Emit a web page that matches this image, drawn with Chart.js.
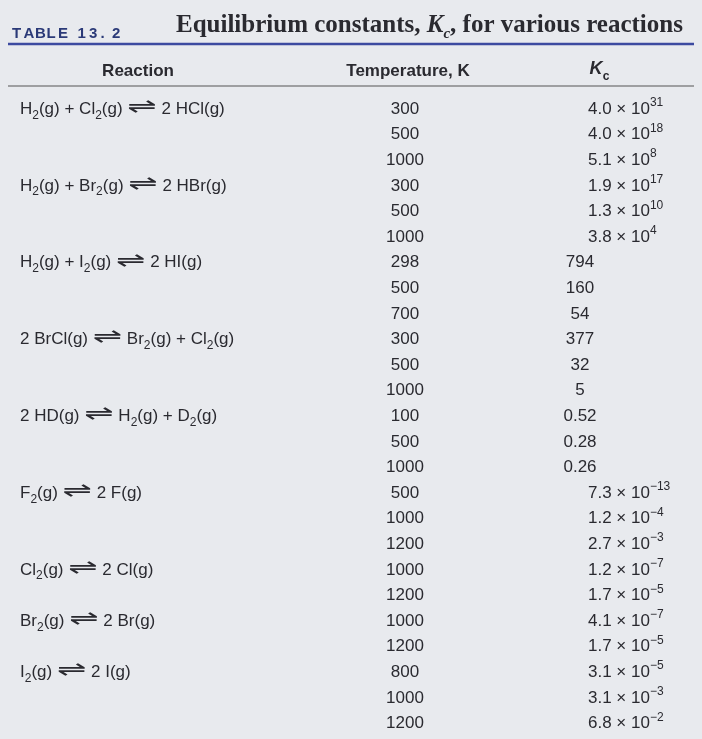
<!DOCTYPE html>
<html lang="en">
<head>
  <meta charset="UTF-8" />
  <title>Table 13.2 — Equilibrium constants</title>
  <script src="https://cdn.jsdelivr.net/npm/chart.js@4.4.1/dist/chart.umd.min.js"></script>
  <style>
    body { margin: 0; background: #e8eaee; }
    canvas { display: block; }
  </style>
</head>
<body>
  <canvas id="tbl" width="702" height="739"></canvas>

  <script>
    // one entry per row; reaction text only on the first row of each group
    const reactions = [
      'H_2(g) + Cl_2(g) ⇌ 2 HCl(g)', '', '',
      'H_2(g) + Br_2(g) ⇌ 2 HBr(g)', '', '',
      'H_2(g) + I_2(g) ⇌ 2 HI(g)', '', '',
      '2 BrCl(g) ⇌ Br_2(g) + Cl_2(g)', '', '',
      '2 HD(g) ⇌ H_2(g) + D_2(g)', '', '',
      'F_2(g) ⇌ 2 F(g)', '', '',
      'Cl_2(g) ⇌ 2 Cl(g)', '',
      'Br_2(g) ⇌ 2 Br(g)', '',
      'I_2(g) ⇌ 2 I(g)', '', '',
    ];
    const temperatures = [300, 500, 1000, 300, 500, 1000, 298, 500, 700, 300, 500, 1000,
      100, 500, 1000, 500, 1000, 1200, 1000, 1200, 1000, 1200, 800, 1000, 1200];
    const kcValues = [
      '4.0 × 10^31', '4.0 × 10^18', '5.1 × 10^8',
      '1.9 × 10^17', '1.3 × 10^10', '3.8 × 10^4',
      '794', '160', '54',
      '377', '32', '5',
      '0.52', '0.28', '0.26',
      '7.3 × 10^−13', '1.2 × 10^−4', '2.7 × 10^−3',
      '1.2 × 10^−7', '1.7 × 10^−5',
      '4.1 × 10^−7', '1.7 × 10^−5',
      '3.1 × 10^−5', '3.1 × 10^−3', '6.8 × 10^−2',
    ];
    const columnHeaders = ['Reaction', 'Temperature, K', 'K'];

    const FONT = '"Liberation Sans", Arial, sans-serif';
    const INK = '#2a2a30';

    // draw text where "_x" is subscript and "^x" is superscript; ⇌ drawn larger
    function richText(ctx, str, x, y, size) {
      ctx.textBaseline = 'alphabetic';
      ctx.textAlign = 'left';
      let i = 0;
      while (i < str.length) {
        const c = str[i];
        if (c === '_' || c === '^') {
          let j = i + 1;
          while (j < str.length && /[0-9−a-z]/.test(str[j])) j++;
          const part = str.slice(i + 1, j);
          ctx.font = `${Math.round(size * 0.68)}px ${FONT}`;
          ctx.fillText(part, x, c === '_' ? y + size * 0.28 : y - size * 0.45);
          x += ctx.measureText(part).width;
          i = j;
        } else if (c === '⇌') {
          ctx.font = `${Math.round(size * 1.5)}px "DejaVu Sans", sans-serif`;
          ctx.save();
          ctx.translate(x, y - size * 0.05);
          ctx.scale(1.35, 0.8);
          ctx.fillText('⇌', 0, 0);
          x += ctx.measureText('⇌').width * 1.35;
          ctx.restore();
          i++;
        } else {
          let j = i;
          while (j < str.length && !'_^⇌'.includes(str[j])) j++;
          const part = str.slice(i, j);
          ctx.font = `${size}px ${FONT}`;
          ctx.fillText(part, x, y);
          x += ctx.measureText(part).width;
          i = j;
        }
      }
    }

    const tablePlugin = {
      id: 'tableText',
      afterDatasetsDraw(chart) {
        const { ctx, scales: { x, y } } = chart;
        ctx.save();
        ctx.fillStyle = INK;

        // title
        ctx.font = `bold 15px ${FONT}`;
        ctx.fillStyle = '#2b3a78';
        let tx = 12;
        for (const ch of 'TABLE 13.2') { ctx.fillText(ch, tx, 38); tx += ch === ' ' ? 8 : 11.5; }
        ctx.fillStyle = INK;
        const SERIF = '"Liberation Serif", serif';
        ctx.font = `bold 25px ${SERIF}`;
        let t = 'Equilibrium constants, ';
        ctx.fillText(t, 176, 32);
        let w = ctx.measureText(t).width + 176;
        ctx.font = `italic bold 25px ${SERIF}`;
        ctx.fillText('K', w, 32); w += ctx.measureText('K').width;
        ctx.font = `italic bold 15px ${SERIF}`;
        ctx.fillText('c', w, 38); w += ctx.measureText('c').width;
        ctx.font = `bold 25px ${SERIF}`;
        ctx.fillText(', for various reactions', w, 32);

        ctx.strokeStyle = '#3c4aa0'; ctx.lineWidth = 2.5;
        ctx.beginPath(); ctx.moveTo(8, 44); ctx.lineTo(694, 44); ctx.stroke();

        // header row
        ctx.fillStyle = INK;
        ctx.font = `bold 17px ${FONT}`;
        ctx.textAlign = 'center';
        ctx.fillText(columnHeaders[0], 138, 76);
        ctx.fillText(columnHeaders[1], 408, 76);
        ctx.font = `italic bold 18px ${FONT}`;
        ctx.fillText(columnHeaders[2], 596, 74);
        ctx.font = `bold 12px ${FONT}`;
        ctx.fillText('c', 606, 80);
        ctx.strokeStyle = '#555'; ctx.lineWidth = 1;
        ctx.beginPath(); ctx.moveTo(8, 86); ctx.lineTo(694, 86); ctx.stroke();

        // body rows, positioned by the scales
        temperatures.forEach((temp, i) => {
          const py = y.getPixelForValue(i) + 6;
          if (reactions[i]) richText(ctx, reactions[i], 20, py, 17);
          ctx.font = `17px ${FONT}`;
          ctx.textAlign = 'center';
          ctx.fillText(String(temp), x.getPixelForValue(1), py);
          const kc = kcValues[i];
          if (kc.includes('^')) richText(ctx, kc, x.getPixelForValue(2) - 12, py, 17);
          else { ctx.font = `17px ${FONT}`; ctx.textAlign = 'center'; ctx.fillText(kc, x.getPixelForValue(2) - 20, py); }
        });
        ctx.restore();
      }
    };

    new Chart(document.getElementById('tbl'), {
      type: 'scatter',
      data: {
        datasets: [{
          data: temperatures.map((t, i) => ({ x: 1, y: i })),
          pointRadius: 0,
        }]
      },
      options: {
        responsive: false,
        animation: false,
        layout: { padding: { top: 95, bottom: 4, left: 0, right: 0 } },
        plugins: { legend: { display: false }, tooltip: { enabled: false } },
        scales: {
          x: { type: 'linear', min: -1.077, max: 2.523, display: false },
          y: { type: 'linear', min: -0.5, max: 24.5, reverse: true, display: false },
        }
      },
      plugins: [tablePlugin]
    });
  </script>
</body>
</html>
